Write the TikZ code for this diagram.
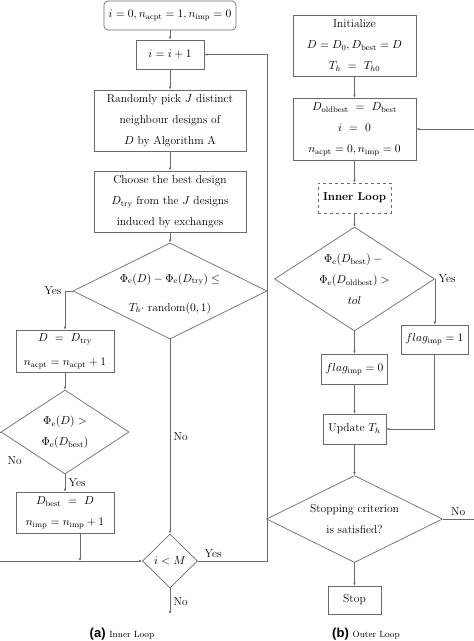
\RequirePackage{fix-cm}
\documentclass[tikz,border=0pt]{standalone}
\usepackage{fontspec}
\newfontfamily\capfont{Liberation Sans}
\usepackage{amsmath}
\usetikzlibrary{shapes.geometric, arrows.meta}
\definecolor{linegray}{gray}{0.42}

\begin{document}
\begin{tikzpicture} [x = 1pt, y = -1pt, font = \fontsize{11.5}{21}\selectfont,
  proc/.style 2 args = {draw = linegray, line width = 0.7pt, align = center, inner sep = 0pt, minimum width = #1, minimum height = #2},
  dec/.style n args = {3}{draw = linegray, line width = 0.7pt, diamond, align = center, inner sep = 0pt, aspect = #3, minimum width = #1, minimum height = #2},
  arr/.style = {draw = linegray, line width = 0.7pt, -{Latex[length = 3pt, width = 2.6pt]}}]
\useasboundingbox (0,0) rectangle (474,641);

% (a) inner loop
\node[proc = {132pt}{29pt}, rounded corners = 4pt] (init) at (170,15.5) {$i=0, n_{\mathrm{acpt}}=1, n_{\mathrm{imp}}=0$};
\node[proc = {68pt}{29pt}] (inc) at (170,54.5) {$i=i+1$};
\node[proc = {152pt}{61pt}] (pick) at (170,120.5) {Randomly pick $J$ distinct\\neighbour designs of\\$D$ by Algorithm A};
\node[proc = {152pt}{61pt}] (choose) at (170,201.5) {Choose the best design\\$D_{\mathrm{try}}$ from the $J$ designs\\induced by exchanges};
\node[dec = {194pt}{96pt}{2}] (dec1) at (170,291) {\rule{0pt}{14pt}$\Phi_{\mathrm{e}}(D)-\Phi_{\mathrm{e}}(D_{\mathrm{try}})\leq$\\[8pt]$T_h{\cdot}$ random$(0,1)$};
\node[proc = {98pt}{42pt}] (upd1) at (65,351) {$D\ =\ D_{\mathrm{try}}$\\[3pt]$n_{\mathrm{acpt}}=n_{\mathrm{acpt}}+1$};
\node[dec = {128pt}{84pt}{1.5}] (dec2) at (65,432) {$\Phi_{\mathrm{e}}(D)>$\\$\Phi_{\mathrm{e}}(D_{\mathrm{best}})$};
\node[proc = {98pt}{41pt}] (upd2) at (65,512.5) {$D_{\mathrm{best}}\ =\ D$\\$n_{\mathrm{imp}}=n_{\mathrm{imp}}+1$};
\node[dec = {55pt}{54pt}{1}] (lt) at (170,561) {$i<M$};
\coordinate (loopC) at (-3,432);
\coordinate (loopA) at (267.5,561);
\coordinate (endA) at (170,614);

\draw[arr] (init) -- (inc);
\draw[arr] (inc) -- (pick);
\draw[arr] (pick) -- (choose);
\draw[arr] (choose) -- (dec1);
\draw[arr] (dec1.west) -| node[pos = .5, left]{Yes} (upd1.north);
\draw[arr] (upd1) -- (dec2);
\draw[arr] (dec2) -- node[right]{Yes} (upd2);
\draw[arr] (dec2.west) -- (loopC) |- node[pos = .11, right = 7pt]{No} (lt.west);
\draw[arr] ([xshift = 15pt]upd2.south) -- ([xshift = 15pt]upd2.south |- lt.west);
\draw[arr] (dec1) -- node[right]{No} (lt);
\draw[arr] (lt.east) -- node[pos = .22, above]{Yes} (loopA) |- (inc.east);
\draw[arr] (lt) -- node[right]{No} (endA);

% (b) outer loop
\node[proc = {123pt}{61pt}] (ini) at (354.5,45.5) {Initialize\\$D=D_0, D_{\mathrm{best}}=D$\\$T_h\ =\ T_{h0}$};
\node[proc = {123pt}{62pt}] (reset) at (354.5,129) {$D_{\mathrm{oldbest}}\ =\ D_{\mathrm{best}}$\\$i\ =\ 0$\\$n_{\mathrm{acpt}}=0, n_{\mathrm{imp}}=0$};
\node[proc = {73pt}{30pt}, dashed] (inner) at (354.5,198) {\textbf{Inner Loop}};
\node[dec = {160pt}{104pt}{1.5}] (dec3) at (354.5,279) {$\Phi_{\mathrm{e}}(D_{\mathrm{best}})-{}$\\$\Phi_{\mathrm{e}}(D_{\mathrm{oldbest}})>$\\$tol$};
\node[proc = {67pt}{29pt}] (flag1) at (434.5,339.5) {$flag_{\mathrm{imp}}=1$};
\node[proc = {66pt}{30pt}] (flag0) at (354.5,369) {$flag_{\mathrm{imp}}=0$};
\node[proc = {63pt}{30pt}] (update) at (354.5,429) {Update $T_h$};
\node[dec = {176pt}{87pt}{2}] (crit) at (354.5,519) {Stopping criterion\\is satisfied?};
\node[proc = {53pt}{28pt}] (stop) at (354.5,600) {Stop};
\coordinate (loopB) at (477,519);

\draw[arr] (ini) -- (reset);
\draw[arr] (reset) -- (inner);
\draw[arr] (inner) -- (dec3);
\draw[arr] (dec3.east) -- node[at start, right]{Yes} (dec3.east |- flag1.north);
\draw[arr] (dec3) -- (flag0);
\draw[arr] (flag0) -- (update);
\draw[arr] (flag1) |- (update);
\draw[arr] (update) -- (crit);
\draw[arr] (crit) -- (stop);
\draw[arr] (crit.east) -- node[pos = .45, above]{No} (loopB) |- (reset.east);

% captions
\node (capA) at (122,634) {{\capfont\bfseries\fontsize{13}{13}\selectfont(a)}\ {\fontsize{9}{10}\selectfont Inner Loop}};
\node (capB) at (366,634) {{\capfont\bfseries\fontsize{13}{13}\selectfont(b)}\ {\fontsize{9}{10}\selectfont Outer Loop}};
\end{tikzpicture}
\end{document}
